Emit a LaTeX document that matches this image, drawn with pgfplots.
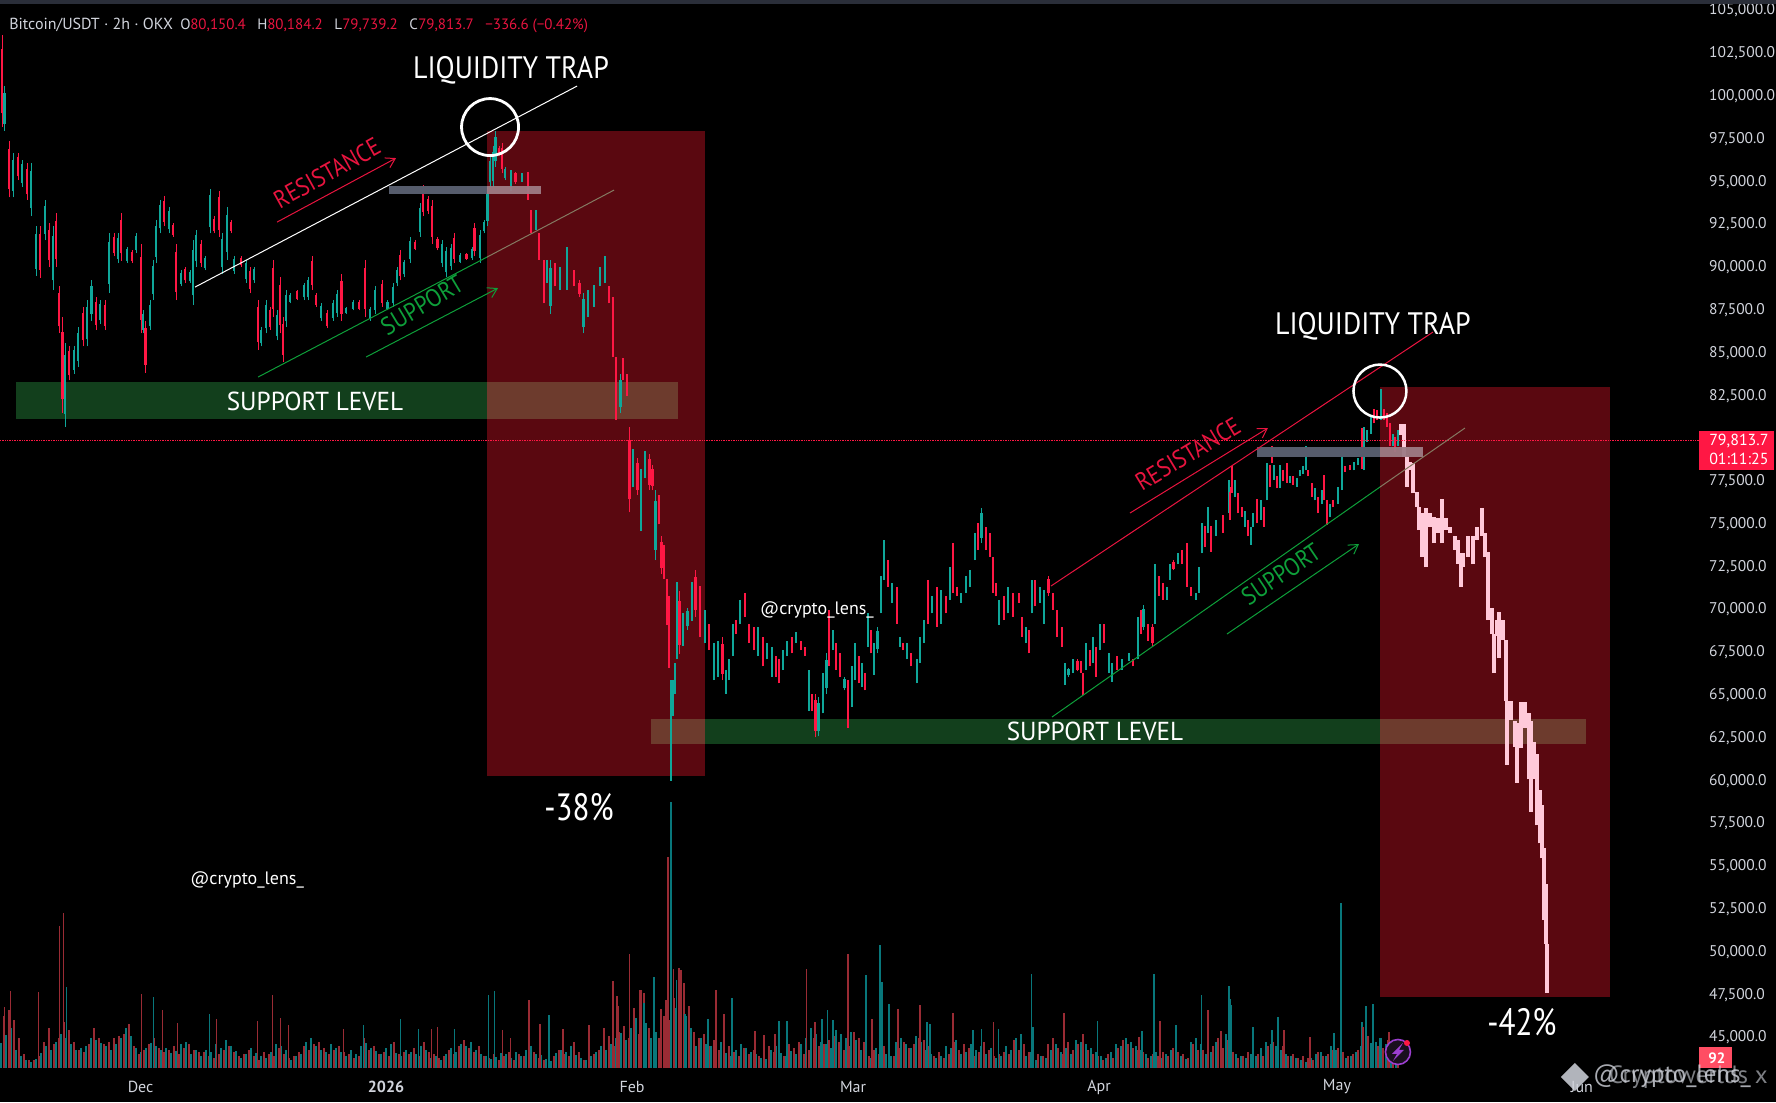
\documentclass[border=0pt]{standalone}
\usepackage{pgfplots}
\usepackage{pgfplotstable}
\usepackage{graphicx}
\usepackage{fontspec}
\setmainfont{PT Sans}
\pgfplotsset{compat=1.18}
\usetikzlibrary{arrows.meta}
\definecolor{cteal}{HTML}{0FA79A}
\definecolor{cred}{HTML}{FF1744}
\definecolor{vteal}{HTML}{08777B}
\definecolor{vred}{HTML}{9A2B34}
\definecolor{rzone}{HTML}{5A0810}
\definecolor{gzone}{HTML}{123F1C}
\definecolor{ozone}{HTML}{6D3B2D}
\definecolor{lab}{HTML}{D1D4DC}
\definecolor{lgreen}{HTML}{0E9F3A}
\definecolor{lred}{HTML}{E8143F}
\definecolor{pink}{HTML}{FFC9D9}
\definecolor{barcol}{HTML}{565C6C}
\definecolor{barover}{HTML}{9E7C86}
\definecolor{olivegray}{HTML}{857A62}
\definecolor{topcol}{HTML}{2A2E39}
\definecolor{rsicol}{HTML}{FF4D63}
\definecolor{iconbg}{HTML}{1A0F1E}
\definecolor{purple1}{HTML}{9C3FD0}

% candles: x position, low and high price in thousands of USDT
\pgfplotstableread{
x l h
4.5 97.9 100.5
13 94.0 96.6
22 94.6 96.2
31 92.9 96.0
36 89.4 92.3
45 91.5 93.85
53 88.6 92.3
65 80.6 85.5
74 83.7 85.3
78 84.1 86.4
87 85.3 88.0
91.5 86.8 89.2
100 86.6 88.0
109 88.4 91.9
118 90.15 91.9
127 90.15 91.1
136 90.75 91.9
143 86.05 87.4
150 86.25 88.0
153 88.0 90.35
156 90.15 92.7
160 91.9 93.85
169 91.9 93.45
181 88.8 89.75
190 89.0 89.75
193 87.7 91.5
196 89.95 92.1
205 89.75 90.55
210 91.9 94.5
222 89.55 91.9
227 90.35 93.45
234 89.55 90.55
246 89.0 90.35
254 89.0 89.95
261 85.3 86.45
266 86.05 88.0
277 85.65 87.4
286 86.45 88.6
290 87.8 88.4
304 88.0 89.0
308 88.0 89.35
321 86.8 87.8
333 86.8 88.0
337 87.0 88.6
346 87.2 87.6
353 87.4 88.0
370 86.8 87.6
375 87.2 88.8
387.5 87.4 88.0
393 87.6 89.0
397 88.8 89.95
404 89.35 90.35
410 90.15 91.7
420 91.7 93.65
442 89.95 91.5
446 89.35 91.1
451 89.75 91.3
460 90.15 90.75
472 90.35 91.1
480 90.15 92.1
484 91.9 92.7
487.5 92.3 94.6
490 94.6 96.4
493 94.6 97.0
495.5 95.8 97.85
505 95.0 95.8
511 94.35 95.6
522 94.9 95.4
536 92.1 93.25
547 89.0 90.35
550.5 87.2 90.35
560 88.6 89.95
567 88.6 91.1
583.5 86.05 88.4
588 87.0 88.6
594 87.6 88.9
600 88.8 89.95
605 89.0 90.55
620.5 81.4 83.7
633 77.1 79.3
641 74.5 78.1
645 77.6 79.2
655.4 72.8 76.9
671 59.9 65.8
673 63.7 65.8
675 65.0 66.8
677 67.0 71.5
683 67.8 69.7
687.5 68.75 70.0
692 69.25 71.5
705 67.95 69.9
714 65.8 67.95
718 66.0 68.1
726 65.0 66.4
729 65.8 67.0
733 67.2 69.1
740 69.1 70.5
758 67.2 68.9
767 67.0 67.95
772 66.0 67.75
783 66.4 67.55
787 67.2 68.1
796 67.95 68.6
809 64.0 66.4
818.6 62.5 64.8
823 63.85 66.2
826.6 65.0 67.35
833 67.55 68.7
844.5 65.2 66.0
852 64.25 66.6
855 65.8 67.95
862 65.4 66.8
868 67.75 69.7
874 66.1 67.95
877.5 67.35 68.9
881 69.7 71.85
884 71.65 74.0
892 70.3 71.45
900 67.75 68.3
907 67.0 67.95
917 65.6 67.0
920 66.8 68.3
924 67.95 69.3
932 69.7 70.7
941 69.1 71.05
950 70.5 72.4
961 70.3 70.9
966 70.9 71.85
970 71.25 72.2
975 72.8 74.4
981.5 73.8 75.85
999 69.0 70.5
1008 69.7 71.25
1026 67.95 68.9
1032 69.7 71.65
1040 70.3 71.25
1044 69.1 71.05
1065 65.5 66.8
1068.6 66.0 66.5
1073 66.2 67.05
1086 66.4 67.95
1093 66.8 68.3
1100 67.55 69.1
1109 66.2 67.35
1112 65.7 66.8
1122 66.4 67.0
1129 66.9 67.35
1138 67.0 69.5
1143.5 68.7 70.2
1155 69.1 72.6
1167 70.5 71.25
1170 71.65 72.6
1178 72.6 73.2
1196 70.5 70.9
1199 70.9 72.4
1202 73.2 75.0
1208 74.4 75.9
1216 74.2 75.15
1229 75.55 77.5
1235 76.5 77.5
1245 74.75 75.7
1251 73.7 74.75
1253 74.75 75.55
1261 75.15 76.3
1267 76.3 78.45
1274 77.5 78.35
1280 77.0 78.35
1290 77.3 77.7
1297 77.1 77.6
1300 77.7 78.05
1303 77.85 78.3
1306 78.05 79.45
1315 76.3 77.0
1322 76.1 76.9
1330 75.35 76.1
1338 76.1 77.1
1342 76.9 78.85
1354 78.05 78.55
1358 78.35 78.75
1364 78.05 80.6
1367 79.7 80.4
1371 80.2 81.3
1381 81.0 82.8
1393 79.45 80.2
1398 79.5 80.4
}\tealC
\pgfplotstableread{
x l h
2 98.1 103.5
9 94.0 97.3
18 95.0 96.6
27 93.85 96.0
40 89.3 92.3
49 89.95 92.5
56 89.95 93.1
59 86.05 88.8
62.5 81.4 87.0
69 83.3 85.3
83 85.3 87.6
96 86.25 88.2
105 86.25 88.0
114 90.55 91.9
121 90.3 93.1
132 90.15 90.9
141 86.05 91.3
145.5 83.75 86.8
164 92.3 94.05
173 91.7 92.5
176 88.0 91.3
185 89.0 89.95
201 89.95 91.5
214 91.9 92.9
219 91.7 94.4
231 91.9 92.7
241 89.95 90.55
250 88.4 89.95
258 85.1 88.0
270 86.25 87.6
273 87.0 90.35
280 86.05 89.35
283 84.4 87.0
297 88.0 88.6
312 88.6 90.55
316 87.6 88.4
327 86.35 87.4
341.5 86.8 89.55
359 87.4 88.0
365 87.0 90.35
382 87.6 89.15
400 89.15 90.9
415 90.9 91.5
423 92.9 94.7
428 93.05 94.05
432 91.3 93.85
437.5 90.9 91.7
454 90.15 91.9
466.5 90.35 90.75
474.5 90.55 92.5
499 96.4 97.0
502 95.4 97.15
515.5 94.8 95.5
528 93.85 95.5
531 91.9 93.25
539 90.35 91.9
544 87.8 90.35
555 88.8 90.15
574 88.8 89.75
579.5 88.2 89.15
609 87.8 88.8
613 84.7 88.2
616 81.0 84.7
623 83.3 84.6
627 82.4 83.7
629.5 75.6 80.6
637.5 76.6 78.8
649.5 76.9 79.0
652.7 76.9 78.35
659 74.9 76.6
661.6 72.0 74.2
664 71.7 73.7
667 69.0 71.7
669 66.5 70.7
679.5 67.3 71.0
695.5 69.5 72.2
700 68.3 71.3
709 67.55 69.1
722.5 65.8 68.3
736 68.5 69.3
745 69.5 70.9
749 67.95 69.1
754 67.55 68.9
763 66.6 68.3
776 66.0 67.2
779 65.6 67.0
792 67.35 68.3
801 67.55 68.1
805 67.2 67.75
812 64.0 65.0
815.5 62.45 65.0
829 66.6 69.9
836 66.4 67.95
840 66.0 67.35
848 63.0 65.8
859 65.6 67.2
865 65.2 66.2
871 67.35 68.7
888 71.25 72.8
897 69.1 71.25
903 67.55 67.95
911 66.6 67.35
928 69.1 71.65
937 68.9 71.25
946 69.7 70.7
953 70.9 73.8
957 70.7 71.25
978 73.4 75.0
986 73.4 74.75
990 73.0 74.4
993 70.9 73.0
996 70.7 71.45
1004 69.3 70.7
1013 69.5 70.9
1019 70.3 70.9
1022 68.3 69.5
1029 67.35 68.7
1035 70.1 71.65
1048.5 70.7 71.85
1053 69.9 70.9
1057 68.3 69.9
1062 67.75 68.9
1077.5 66.3 67.0
1081 66.2 66.9
1083 64.9 66.2
1090 66.6 67.55
1096 66.0 67.75
1104 67.95 69.1
1117 66.4 67.2
1133 66.6 67.0
1141 68.5 69.9
1148 68.1 69.1
1152.5 67.75 69.1
1159 70.7 71.85
1163 70.5 71.45
1173.5 72.2 72.8
1182 72.6 73.4
1187 71.25 73.8
1191 70.7 71.25
1205 73.6 74.8
1211 73.3 74.8
1223 74.4 75.45
1230 75.15 77.1
1232 76.7 78.3
1238 75.55 76.7
1242 75.35 75.9
1248 74.2 75.15
1257 74.95 76.4
1264 74.75 75.9
1270 77.1 78.35
1272 78.45 79.45
1277 77.0 77.7
1283 77.4 78.05
1287 77.3 78.45
1293 77.2 77.7
1308 77.7 78.05
1312 76.5 77.3
1318 75.55 76.5
1324 76.3 77.8
1327 74.85 76.3
1333 75.9 76.3
1345 77.95 78.3
1350 78.05 78.35
1362 78.15 80.5
1374 80.8 81.65
1377 81.0 81.55
1384 81.0 81.65
1387 80.6 81.4
1390 79.5 80.8
1395 79.15 80.0
}\redC
% the drawn pale projection
\pgfplotstableread{
x l h
1401 80.1 80.75
1404 78.85 80.75
1407 77.1 78.85
1410 78.05 78.55
1413 76.7 78.45
1417 75.9 76.8
1419 74.55 75.9
1422 73.0 75.55
1426 72.4 75.85
1430 74.75 75.55
1434 73.8 75.35
1438 74.4 75.25
1442 73.8 76.4
1446 74.55 75.25
1450 74.4 74.75
1455 73.4 74.2
1458 72.6 74.0
1461 71.25 73.2
1463 72.4 73.2
1468 73.0 74.2
1473 72.6 74.2
1477 74.0 74.75
1482 74.2 75.85
1485 73.0 74.4
1488 69.3 73.3
1492 68.5 70.0
1494 66.2 68.5
1497 68.35 69.3
1499 67.1 69.8
1503 68.15 69.3
1506 64.6 68.15
1507 60.85 64.6
1511 63.45 64.6
1515 61.9 63.4
1517 59.8 63.3
1521 61.8 64.5
1525 63.0 64.5
1529 60.0 63.85
1531 58.1 63.4
1534 60.0 62.2
1537 57.3 61.5
1540 56.25 59.4
1542 55.4 58.5
1544 51.8 56.0
1546 50.4 53.9
1547 47.5 50.4
}\paleC
% volume bars, one every 5 px, 20 to the row
\pgfplotstableread[row sep=\\]{
h\\
25\\33\\40\\18\\12\\8\\6\\9\\15\\22\\18\\26\\34\\30\\24\\18\\20\\22\\30\\28\\
25\\22\\18\\24\\30\\40\\32\\20\\16\\20\\25\\22\\18\\20\\15\\17\\24\\26\\14\\18\\
12\\18\\16\\24\\20\\28\\22\\17\\10\\14\\20\\15\\12\\10\\16\\24\\22\\18\\8\\12\\
14\\26\\30\\22\\18\\16\\24\\20\\16\\12\\18\\14\\22\\25\\20\\17\\14\\20\\24\\15\\
12\\18\\16\\14\\22\\18\\10\\12\\8\\14\\20\\16\\24\\22\\26\\18\\14\\12\\9\\11\\
15\\14\\10\\16\\12\\18\\22\\14\\13\\9\\7\\15\\18\\16\\22\\13\\10\\8\\12\\16\\
22\\18\\24\\30\\35\\28\\40\\50\\62\\45\\30\\36\\26\\40\\55\\60\\70\\52\\40\\22\\
30\\24\\22\\32\\26\\15\\12\\18\\24\\20\\16\\14\\10\\9\\18\\22\\15\\12\\17\\14\\
24\\30\\40\\34\\26\\24\\20\\38\\34\\30\\36\\28\\18\\14\\10\\20\\18\\14\\12\\26\\
30\\24\\20\\32\\26\\18\\14\\10\\12\\22\\20\\28\\14\\16\\24\\18\\22\\14\\20\\10\\
12\\22\\18\\30\\34\\12\\16\\8\\12\\10\\18\\24\\16\\20\\14\\28\\26\\24\\20\\16\\
12\\10\\16\\24\\22\\30\\26\\22\\18\\14\\12\\16\\10\\14\\18\\20\\12\\9\\26\\30\\
24\\14\\16\\26\\18\\34\\30\\14\\12\\10\\14\\12\\20\\26\\24\\22\\18\\14\\12\\10\\
8\\6\\10\\14\\16\\12\\22\\18\\14\\10\\12\\16\\22\\28\\25\\26\\30\\24\\20\\8\\
}\tealV
\pgfplotstableread[row sep=\\]{
h\\
52\\58\\48\\30\\14\\8\\8\\12\\26\\40\\24\\30\\46\\38\\26\\18\\16\\24\\40\\30\\
24\\26\\30\\32\\34\\44\\22\\14\\18\\24\\30\\20\\16\\18\\22\\14\\20\\24\\18\\16\\
16\\12\\10\\14\\18\\22\\16\\12\\14\\18\\12\\8\\16\\14\\12\\20\\14\\10\\12\\16\\
22\\18\\24\\26\\20\\14\\18\\22\\16\\14\\10\\12\\30\\18\\22\\14\\16\\12\\26\\14\\
16\\14\\20\\12\\26\\16\\14\\10\\12\\18\\14\\22\\28\\20\\16\\22\\12\\10\\14\\8\\
12\\16\\8\\14\\12\\20\\16\\10\\8\\14\\12\\18\\14\\12\\26\\16\\8\\10\\14\\18\\
40\\32\\22\\36\\42\\30\\60\\34\\75\\40\\44\\30\\52\\48\\70\\100\\85\\62\\36\\30\\
34\\22\\28\\18\\14\\22\\16\\12\\20\\14\\18\\12\\14\\22\\16\\14\\12\\24\\20\\26\\
14\\18\\30\\22\\24\\28\\32\\26\\18\\22\\36\\30\\26\\12\\18\\14\\22\\16\\12\\20\\
26\\20\\24\\30\\28\\22\\12\\16\\10\\14\\26\\18\\24\\20\\12\\16\\26\\18\\12\\14\\
16\\14\\28\\18\\24\\16\\10\\14\\12\\24\\30\\20\\14\\26\\18\\24\\20\\18\\14\\12\\
8\\14\\10\\20\\28\\24\\20\\18\\16\\10\\14\\12\\16\\12\\20\\16\\14\\10\\24\\18\\
18\\16\\22\\30\\20\\28\\16\\10\\12\\16\\10\\14\\12\\22\\26\\18\\22\\12\\14\\10\\
12\\10\\8\\16\\12\\14\\18\\20\\16\\12\\14\\18\\26\\32\\26\\22\\20\\28\\14\\6\\
}\redV
\pgfplotstableread{
x h
66 81
153 71
209 54
363 43
400 49
418 39
454 39
488 73
494 77
549 53
644 65
654 91
671 266
676.6 88
685 54
708 49
732 70
779 47
787 47
822 49
827.5 58
833 48
866 93
880 123
882 86
889 64
927 46
930 44
973 38
981.5 39
998.5 39
1031.5 94
1033 41
1097.6 47
1142 37
1154 94
1176 43
1201.6 73
1229 82
1230 69
1231.5 63
1253 41
1272 38
1278 51
1334 35
1341 165
1362 46
1366 62
1373 64
1380 30
}\tealS
\pgfplotstableread{
x h
4.5 61
10 77
38 76
59 142
63.4 155
141 74
162 58
177 45
216 49
257 47
272 73
280 50
288 43
343 39
431 39
437 41
502 38
510 30
529 68
540 44
563 39
589 43
613 87
617 72
618 62
629.5 114
640 78
641 78
661 59
666 68
668 211
668.5 159
673.5 99
681 98
716 78
724 54
755 37
764 33
775 34
806.5 99
815 46
848 114
872 49
898 59
920 63
953 55
993.6 46
1064 55
1083 34
1139 31
1160 47
1208 58
1221 37
1284 38
1310 31
1363 41
1389 36
}\redS

\pgfplotsset{
  layer/.style={width=1776pt,height=1102pt,scale only axis,at={(0pt,0pt)},anchor=south west,
    xmin=0,xmax=1776},
  ebar/.style 2 args={draw=none,no markers,forget plot,
    error bars/.cd,y dir=plus,y explicit,error mark=none,
    error bar style={draw=#1,line width=#2}},
}
\newcommand{\pxfont}[1]{\fontsize{#1}{#1}\selectfont}
\newcommand{\nar}[2]{\scalebox{#1}[1]{#2}}
\begin{document}
\begin{tikzpicture}
% backdrop and zones, in image pixels
\begin{axis}[layer,ymin=0,ymax=1102,y dir=reverse,hide axis]
\addplot[fill=black,draw=none] coordinates {(0,0)(1776,0)(1776,1102)(0,1102)} --cycle;
\addplot[fill=rzone,draw=none] coordinates {(487,131)(705,131)(705,776)(487,776)} --cycle;
\addplot[fill=rzone,draw=none] coordinates {(1380,387)(1610,387)(1610,997)(1380,997)} --cycle;
\addplot[fill=gzone,draw=none] coordinates {(16,382)(487,382)(487,419)(16,419)} --cycle;
\addplot[fill=ozone,draw=none] coordinates {(487,382)(678,382)(678,419)(487,419)} --cycle;
\addplot[fill=ozone,draw=none] coordinates {(651,719)(705,719)(705,744)(651,744)} --cycle;
\addplot[fill=gzone,draw=none] coordinates {(705,719)(1380,719)(1380,744)(705,744)} --cycle;
\addplot[fill=ozone,draw=none] coordinates {(1380,719)(1586,719)(1586,744)(1380,744)} --cycle;
\end{axis}
% volume
\begin{axis}[layer,ymin=-34,ymax=1068,hide axis]
\addplot[ebar={vteal}{2pt}] table[x index=0,y index=0,x expr=\coordindex*5+1,y expr=0,y error plus expr=\thisrow{h}] {\tealV};
\addplot[ebar={vred}{2pt}] table[x index=0,y index=0,x expr=\coordindex*5+3.5,y expr=0,y error plus expr=\thisrow{h}] {\redV};
\addplot[ebar={vteal}{1.1pt}] table[x=x,y expr=0,y error plus expr=\thisrow{h}] {\tealS};
\addplot[ebar={vred}{1.1pt}] table[x=x,y expr=0,y error plus expr=\thisrow{h}] {\redS};
\end{axis}
% price
\begin{axis}[layer,ymin=41.146,ymax=105.526,
  axis line style={draw=none},major tick length=0pt,
  ytick={105,102.5,100,97.5,95,92.5,90,87.5,85,82.5,77.5,75,72.5,70,67.5,65,62.5,60,57.5,55,52.5,50,47.5,45},
  yticklabels={105{,}000.0,102{,}500.0,100{,}000.0,97{,}500.0,95{,}000.0,92{,}500.0,90{,}000.0,87{,}500.0,85{,}000.0,82{,}500.0,77{,}500.0,75{,}000.0,72{,}500.0,70{,}000.0,67{,}500.0,65{,}000.0,62{,}500.0,60{,}000.0,57{,}500.0,55{,}000.0,52{,}500.0,50{,}000.0,47{,}500.0,45{,}000.0},
  yticklabel pos=right,
  yticklabel style={anchor=west,inner sep=0pt,xshift=-67pt,yshift=-1.5pt,text=lab,font=\pxfont{15.5}},
  xtick={140.5,386,632,853,1099,1337,1582},
  xticklabels={Dec,\textbf{2026},Feb,Mar,Apr,May,Jun},
  xticklabel style={anchor=center,inner sep=0pt,yshift=15pt,text=lab,font=\pxfont{16}},
]
\addplot[ebar={cteal}{1.1pt}] table[x=x,y=l,y error plus expr=\thisrow{h}-\thisrow{l}] {\tealC};
\addplot[ebar={cred}{1.1pt}] table[x=x,y=l,y error plus expr=\thisrow{h}-\thisrow{l}] {\redC};
\addplot[ebar={cteal}{2.6pt}] table[x=x,y expr=\thisrow{l}+0.15*(\thisrow{h}-\thisrow{l}),y error plus expr=0.7*(\thisrow{h}-\thisrow{l})] {\tealC};
\addplot[ebar={cred}{2.6pt}] table[x=x,y expr=\thisrow{l}+0.15*(\thisrow{h}-\thisrow{l}),y error plus expr=0.7*(\thisrow{h}-\thisrow{l})] {\redC};
\addplot[ebar={pink}{4pt}] table[x=x,y=l,y error plus expr=\thisrow{h}-\thisrow{l}] {\paleC};
\addplot[densely dotted,color=cred,line width=0.7pt,forget plot] coordinates {(0,79.81)(1699,79.81)};
\end{axis}
% annotations, in image pixels
\begin{axis}[layer,ymin=0,ymax=1102,y dir=reverse,hide axis,clip=true]
\fill[color=barover,opacity=0.95] (axis cs:1380,447) rectangle (axis cs:1423,457);
\fill[color=barover,opacity=0.95] (axis cs:487,186) rectangle (axis cs:541,194);
\fill[color=barcol] (axis cs:389,186) rectangle (axis cs:487,194);
\fill[color=barcol] (axis cs:1257,447) rectangle (axis cs:1380,457);
% channel lines
\draw[white,line width=1pt] (axis cs:195,287) -- (axis cs:577,86);
\draw[lgreen,line width=1pt] (axis cs:258,377) -- (axis cs:487,257);
\draw[color=olivegray,line width=1pt] (axis cs:487,257) -- (axis cs:614,190);
\draw[lred,line width=1pt] (axis cs:1051,586) -- (axis cs:1433,332);
\draw[lgreen,line width=1pt] (axis cs:1052,717) -- (axis cs:1380,487);
\draw[color=olivegray,line width=1pt] (axis cs:1380,487) -- (axis cs:1465,428);
% arrows
\draw[lred,line width=1pt,-{Straight Barb[length=9pt,width=11pt]}] (axis cs:277,222) -- (axis cs:396,158);
\draw[lred,line width=1pt,-{Straight Barb[length=9pt,width=11pt]}] (axis cs:1130,513) -- (axis cs:1268,428);
\draw[lgreen,line width=1pt,-{Straight Barb[length=9pt,width=11pt]}] (axis cs:366,357) -- (axis cs:498,288);
\draw[lgreen,line width=1pt,-{Straight Barb[length=9pt,width=11pt]}] (axis cs:1227,634) -- (axis cs:1359,544);
% circles
\draw[white,line width=2.8pt] (axis cs:490,127) circle[radius=28.5pt];
\draw[white,line width=2.5pt] (axis cs:1380,391) circle[radius=26.5pt];
% texts
\node[white,font=\pxfont{31}] at (axis cs:511,70) {\nar{.9}{LIQUIDITY TRAP}};
\node[white,font=\pxfont{31}] at (axis cs:1373,326) {\nar{.9}{LIQUIDITY TRAP}};
\node[white,font=\pxfont{26}] at (axis cs:315,401) {\nar{.97}{SUPPORT LEVEL}};
\node[white,font=\pxfont{26}] at (axis cs:1095,731) {\nar{.97}{SUPPORT LEVEL}};
\node[white,font=\pxfont{38}] at (axis cs:579,807) {\nar{.82}{-38\%}};
\node[white,font=\pxfont{38}] at (axis cs:1522,1022) {\nar{.82}{-42\%}};
\node[lred,rotate=29,font=\pxfont{25}] at (axis cs:327,173) {\nar{.88}{RESISTANCE}};
\node[lred,rotate=31,font=\pxfont{25}] at (axis cs:1188,454) {\nar{.88}{RESISTANCE}};
\node[lgreen,rotate=31,font=\pxfont{25}] at (axis cs:422,305) {\nar{.9}{SUPPORT}};
\node[lgreen,rotate=34,font=\pxfont{25}] at (axis cs:1281,574) {\nar{.88}{SUPPORT}};
\node[white,anchor=west,inner sep=0pt,font=\pxfont{18}] at (axis cs:190,880) {@crypto\_lens\_};
\node[white,anchor=west,inner sep=0pt,font=\pxfont{18}] at (axis cs:760,610) {@crypto\_lens\_};
% header
\fill[color=topcol] (axis cs:0,0) rectangle (axis cs:1776,4);
\node[lab,anchor=base west,inner sep=0pt,font=\pxfont{16}] at (axis cs:9,29) {Bitcoin/USDT · 2h · OKX};
\node[lab,anchor=base west,inner sep=0pt,font=\pxfont{15}] at (axis cs:180,29) {O};
\node[lred,anchor=base west,inner sep=0pt,font=\pxfont{15}] at (axis cs:190,29) {80,150.4};
\node[lab,anchor=base west,inner sep=0pt,font=\pxfont{15}] at (axis cs:257,29) {H};
\node[lred,anchor=base west,inner sep=0pt,font=\pxfont{15}] at (axis cs:267,29) {80,184.2};
\node[lab,anchor=base west,inner sep=0pt,font=\pxfont{15}] at (axis cs:334,29) {L};
\node[lred,anchor=base west,inner sep=0pt,font=\pxfont{15}] at (axis cs:342,29) {79,739.2};
\node[lab,anchor=base west,inner sep=0pt,font=\pxfont{15}] at (axis cs:409,29) {C};
\node[lred,anchor=base west,inner sep=0pt,font=\pxfont{15}] at (axis cs:418,29) {79,813.7};
\node[lred,anchor=base west,inner sep=0pt,font=\pxfont{15}] at (axis cs:485,29) {−336.6 (−0.42\%)};
% price tag and RSI box
\fill[color=cred] (axis cs:1699,431) rectangle (axis cs:1774,470);
\node[white,font=\pxfont{16}] at (axis cs:1739,441) {79,813.7};
\node[white,font=\pxfont{16}] at (axis cs:1739,459) {01:11:25};
\fill[color=rsicol] (axis cs:1699,1047) rectangle (axis cs:1732,1068);
\node[white,font=\bfseries\pxfont{15}] at (axis cs:1717,1058) {92};
% flash icon
\fill[color=iconbg] (axis cs:1398,1052) circle[radius=13pt];
\draw[color=purple1,line width=1.6pt] (axis cs:1398,1052) circle[radius=12.5pt];
\fill[color=purple1] (axis cs:1403,1043) -- (axis cs:1392,1054) -- (axis cs:1397,1054) -- (axis cs:1393,1061) -- (axis cs:1404,1050) -- (axis cs:1399,1050) -- cycle;
\fill[color=cred] (axis cs:1407,1043) circle[radius=3pt];
% watermark
\fill[color=lab,opacity=0.85] (axis cs:1575,1063) -- (axis cs:1589,1077) -- (axis cs:1575,1091) -- (axis cs:1561,1077) -- cycle;
\node[color=lab,opacity=0.8,anchor=west,inner sep=0pt,font=\pxfont{25}] at (axis cs:1593,1076) {@crypto\_lens\_};
\node[color=lab,opacity=0.6,anchor=east,inner sep=0pt,font=\pxfont{25}] at (axis cs:1768,1077) {Cryptowerlds x};
\end{axis}
\end{tikzpicture}
\end{document}
